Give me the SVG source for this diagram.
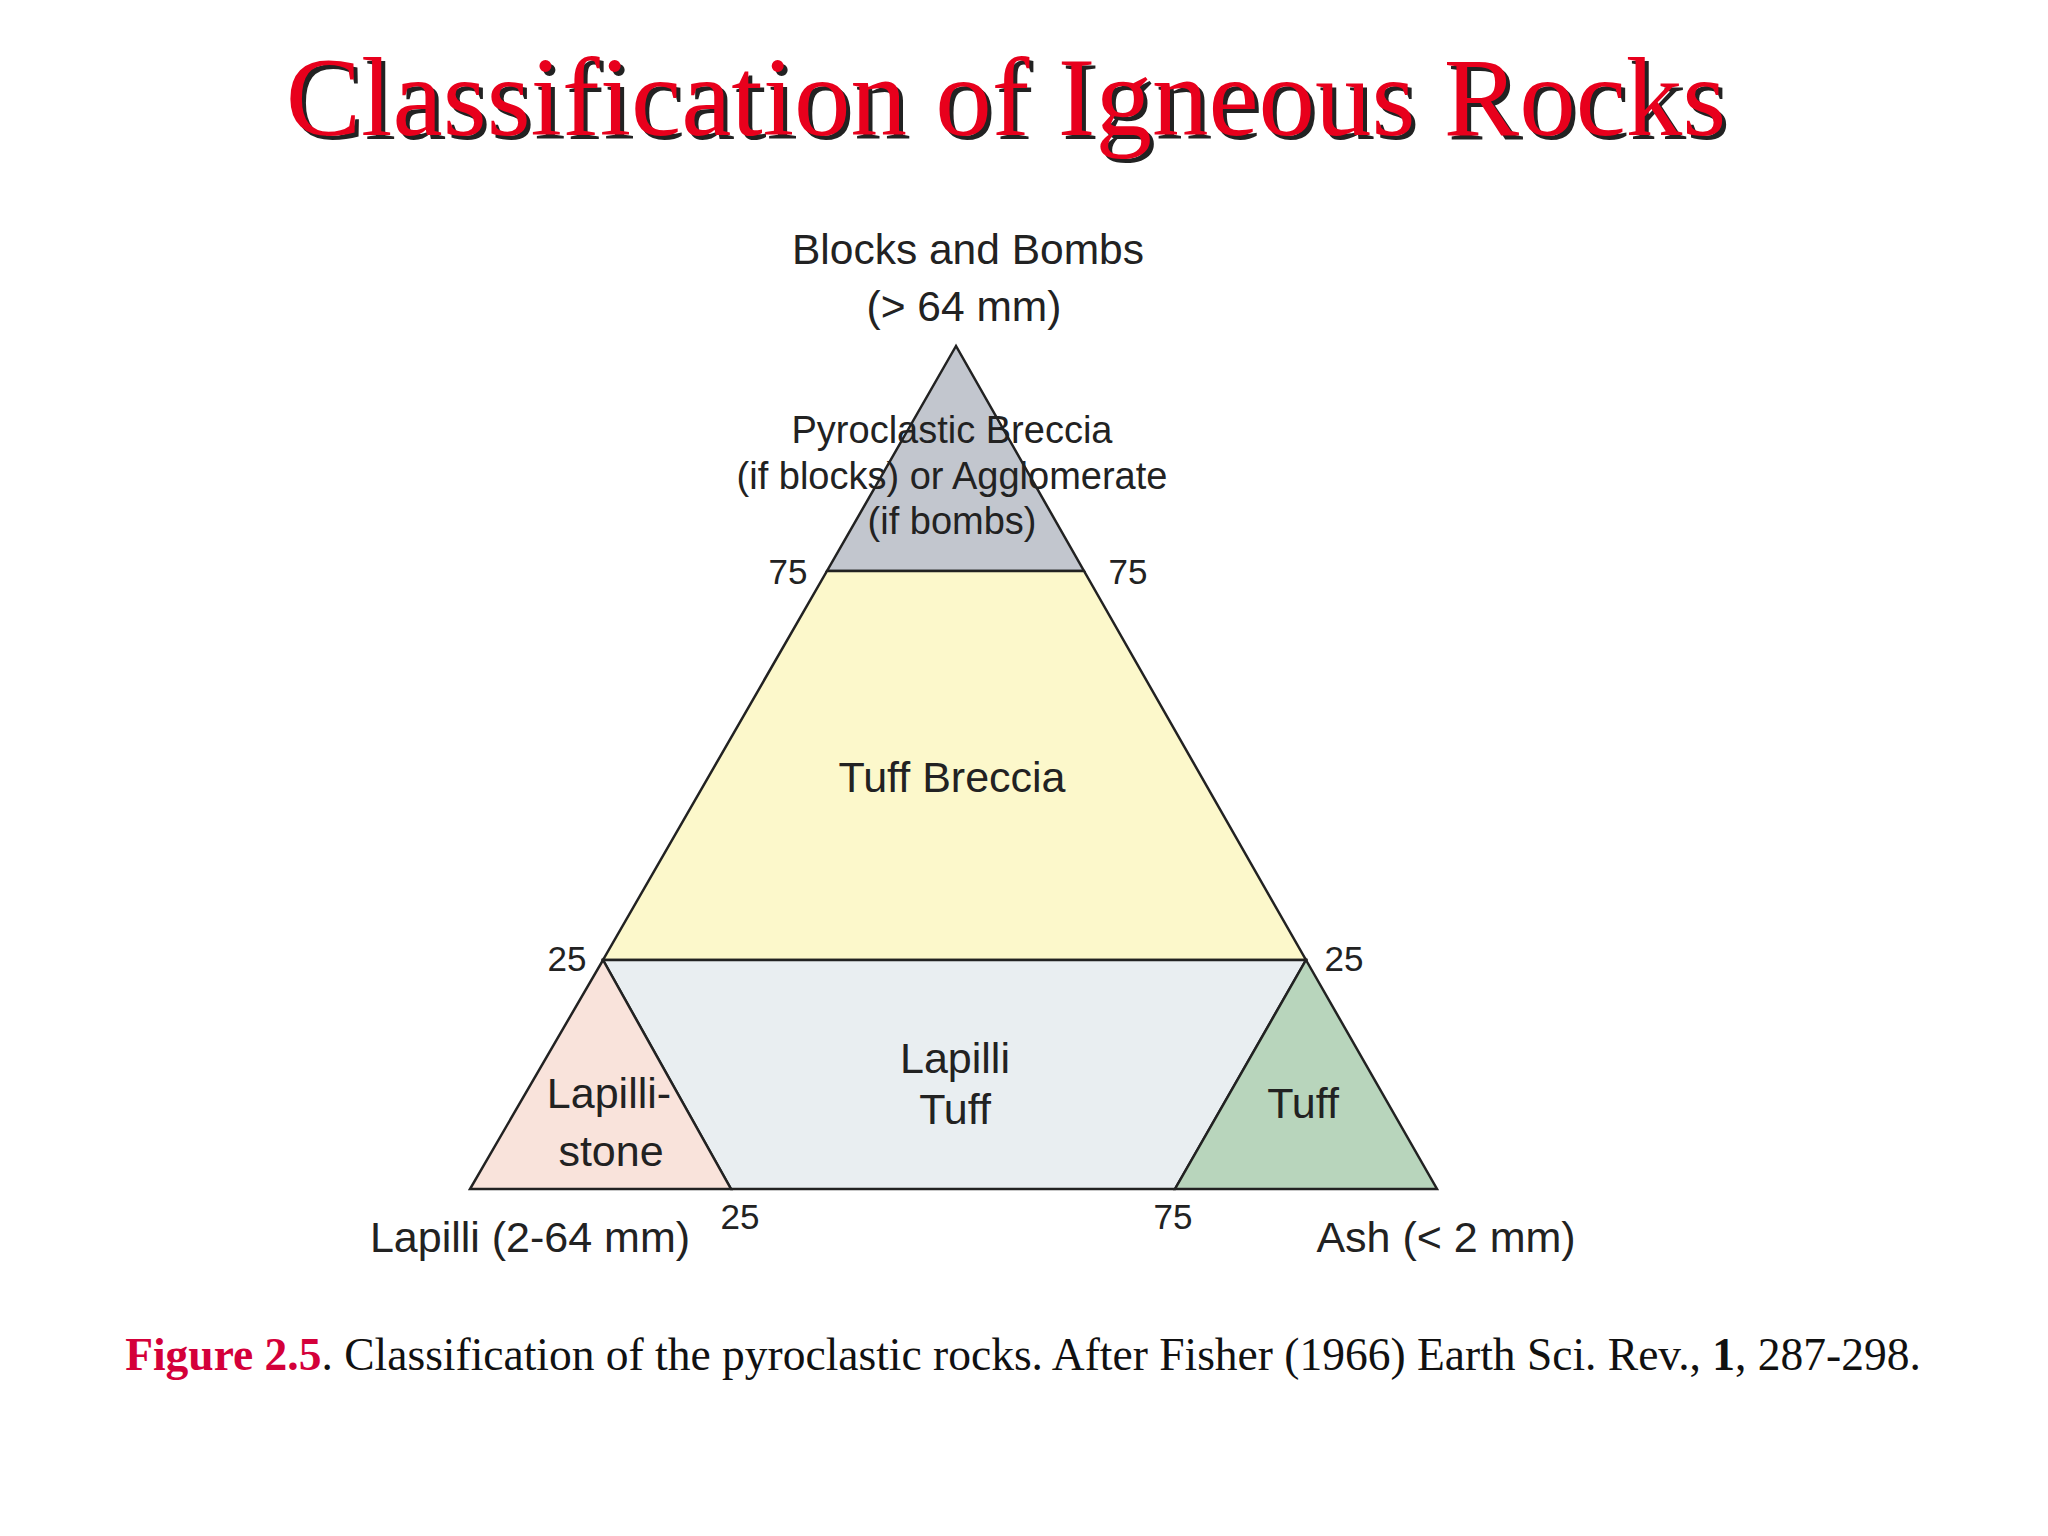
<svg xmlns="http://www.w3.org/2000/svg" width="2048" height="1536" viewBox="0 0 2048 1536">
<style>
.l{font-family:"Liberation Sans",Arial,sans-serif;fill:#222;text-anchor:middle}
.e{stroke:#222;stroke-width:2.5;stroke-linejoin:miter}
</style>
<rect width="2048" height="1536" fill="#fff"/>
<g id="title" font-family="'Liberation Serif','Times New Roman',serif" font-size="113" text-anchor="middle">
<text x="1010" y="139" fill="#222">Classification of Igneous Rocks</text>
<text x="1006" y="135" fill="#e8001c">Classification of Igneous Rocks</text>
</g>
<g id="top"><polygon class="e" points="956,346 827,571 1084,571" fill="#c2c6ce"/></g>
<g id="tuffbreccia"><polygon class="e" points="827,571 1084,571 1306,960 603,960" fill="#fcf8cb"/></g>
<g id="lapillituff"><polygon class="e" points="603,960 1306,960 1175,1189 731,1189" fill="#e9eef1"/></g>
<g id="lapillistone"><polygon class="e" points="603,960 731,1189 470,1189" fill="#f9e3db"/></g>
<g id="tuff"><polygon class="e" points="1306,960 1437,1189 1175,1189" fill="#b8d5bc"/></g>
<g id="labels">
<text class="l" x="968" y="264" font-size="42.5">Blocks and Bombs</text>
<text class="l" x="964" y="321" font-size="42.5">(&gt; 64 mm)</text>
<text class="l" x="952" y="443" font-size="38">Pyroclastic Breccia</text>
<text class="l" x="952" y="489" font-size="38">(if blocks) or Agglomerate</text>
<text class="l" x="952" y="534" font-size="38">(if bombs)</text>
<text class="l" x="788" y="584" font-size="35">75</text>
<text class="l" x="1128" y="584" font-size="35">75</text>
<text class="l" x="952" y="792" font-size="43">Tuff Breccia</text>
<text class="l" x="567" y="971" font-size="35">25</text>
<text class="l" x="1344" y="971" font-size="35">25</text>
<text class="l" x="955" y="1073" font-size="43">Lapilli</text>
<text class="l" x="955" y="1124" font-size="43">Tuff</text>
<text class="l" x="609" y="1108" font-size="43">Lapilli-</text>
<text class="l" x="611" y="1166" font-size="43">stone</text>
<text class="l" x="1303" y="1118" font-size="43">Tuff</text>
<text class="l" x="530" y="1252" font-size="43">Lapilli (2-64 mm)</text>
<text class="l" x="740" y="1229" font-size="35">25</text>
<text class="l" x="1173" y="1229" font-size="35">75</text>
<text class="l" x="1446" y="1252" font-size="43">Ash (&lt; 2 mm)</text>
</g>
<g id="caption" font-family="'Liberation Serif','Times New Roman',serif" font-size="45.5">
<text x="1023" y="1370" text-anchor="middle" fill="#111"><tspan fill="#d4003a" font-weight="bold">Figure 2.5</tspan>. Classification of the pyroclastic rocks. After Fisher (1966) Earth Sci. Rev., <tspan font-weight="bold">1</tspan>, 287-298.</text>
</g>
</svg>
